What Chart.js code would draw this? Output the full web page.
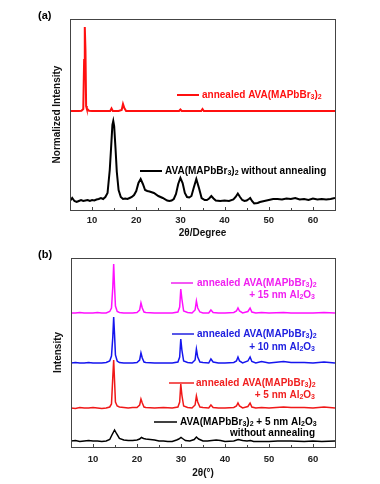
<!DOCTYPE html>
<html>
<head>
<meta charset="utf-8">
<script src="https://cdn.jsdelivr.net/npm/chart.js@4.4.1/dist/chart.umd.min.js"></script>
<style>
  html, body { margin: 0; padding: 0; background: #fff; }
  #wrap { position: relative; width: 380px; height: 484px; }
  .panel { position: absolute; left: 0; width: 380px; }
</style>
</head>
<body>
<div id="wrap">
  <div class="panel" style="top:0;height:240px"><canvas id="chartA" width="380" height="240"></canvas></div>
  <div class="panel" style="top:240px;height:244px"><canvas id="chartB" width="380" height="244"></canvas></div>
</div>
<script>
// ---- panel (a) data (2theta in degrees, intensity in arbitrary offset units) ----
const annealX = [5, 6, 7, 7.6, 8.0, 8.2, 8.35, 8.5, 8.65, 8.8,
  9.3, 10, 12, 14.1, 14.4, 14.7, 16, 16.7, 17.0, 17.3,
  17.7, 20, 25, 29.7, 30.0, 30.3, 33, 34.7, 35.0, 35.3,
  40, 45, 50, 55, 60, 65];
const annealY = [99, 99, 99, 99.3, 101, 150, 183, 160, 104, 101.5,
  99.3, 99, 99, 99, 101.5, 99, 99, 100, 106, 102,
  99, 99, 99, 99, 100.5, 99, 99, 99, 101, 99,
  99, 99, 99, 99, 99, 99];

const rawX = [5, 5.5, 6, 6.5, 7, 7.5, 8, 8.5, 9, 9.5,
  10, 10.5, 11, 11.5, 12, 12.5, 13, 13.5, 14, 14.3,
  14.6, 14.8, 15.0, 15.3, 15.6, 16, 16.5, 17, 17.5, 18,
  18.5, 19, 19.5, 20, 20.5, 21, 21.5, 22, 22.5, 23,
  24, 25, 26, 27, 27.5, 28, 28.5, 29, 29.5, 30,
  30.5, 31, 31.5, 32, 32.5, 33, 33.6, 34.2, 34.8, 35.5,
  36, 36.5, 37, 37.5, 38, 39, 40, 41, 42, 42.5,
  43, 43.5, 44, 44.5, 45, 45.5, 45.8, 46.2, 46.7, 47.5,
  48, 49, 50, 51, 52, 53, 54, 55, 56, 57,
  58, 59, 60, 61, 62, 63, 64, 65];
const rawY = [9, 12, 9, 8, 9, 10, 9, 9.5, 10, 9,
  10, 9.5, 10.5, 11, 12, 11, 13, 17, 40, 62,
  85, 89, 84, 62, 38, 20, 13, 11, 11.5, 11,
  12, 13, 15, 19, 27, 31, 26, 20, 19, 18.5,
  17, 14, 12, 9.5, 9, 9.5, 11, 16, 26, 32,
  27, 17, 13, 12.5, 14, 22, 31, 22, 12, 10,
  10, 11.5, 14, 11.5, 9.5, 9, 9.5, 9, 10.5, 13,
  16.5, 13, 10, 9, 9.5, 11, 12, 9, 6.5, 7,
  8, 9, 10, 11, 11, 10.5, 11.5, 11, 12, 10.5,
  11, 10, 11.5, 10.5, 11, 10.5, 11, 12];

// ---- panel (b) data ----
const xB = [5, 6, 7, 8, 9, 10, 11, 12, 13, 13.8,
  14.2, 14.5, 14.7, 14.9, 15.1, 15.5, 16, 17, 18, 19,
  20, 20.6, 20.9, 21.2, 21.6, 22, 24, 26, 28, 29.3,
  29.7, 29.95, 30.2, 30.6, 31.5, 32.5, 33.2, 33.5, 33.8, 34.3,
  35, 36.3, 36.8, 37.3, 38.5, 40, 42, 42.6, 42.95, 43.3,
  44, 45.2, 45.7, 46.1, 47, 48.3, 50, 53.3, 55, 58,
  60, 62.5, 65];
const al5Y = [39, 38.5, 39.5, 39, 39, 39.5, 39, 38.5, 39, 40,
  43, 70, 87, 66, 45, 41, 40, 39.5, 39, 39.5,
  39.5, 42, 48, 44, 40, 39.5, 39, 39.5, 39, 40,
  45, 63, 52, 41, 39.5, 39, 42, 51, 45, 40,
  39.5, 39, 42, 39.5, 39, 39, 39.5, 41, 44, 41,
  39, 40.5, 44, 40, 39, 39.5, 39, 40, 39.5, 39.5,
  39, 40, 39];
const al10Y = [84, 84.5, 84, 84, 84.5, 84, 84, 84, 84.5, 86,
  91, 110, 130, 112, 92, 86, 84.5, 84, 84, 84,
  84.5, 87, 94, 89, 85, 84.5, 84, 84, 84, 85,
  90, 108, 97, 86, 84.5, 84, 87, 98, 90, 85,
  84.5, 84, 88, 85, 84, 84, 84.5, 86, 90, 86,
  84, 86, 90, 85.5, 84, 85.5, 84, 85.5, 84.5, 84.5,
  84, 85, 84];
const al15Y = [134, 134, 134.5, 134, 134, 134, 134.5, 134, 134, 135.5,
  139, 160, 183, 160, 141, 135.5, 134.5, 134, 134, 134,
  134.5, 137, 144, 139, 135, 134.5, 134, 134, 134, 135,
  140, 158, 148, 136, 134.5, 134, 137, 146, 139, 135,
  134, 134, 137, 134.5, 134, 134, 134.5, 136, 139, 136,
  134, 135.5, 139, 135, 134, 134.5, 134, 134.5, 134, 134,
  134, 134.5, 134];

const xB0 = [5, 6, 7, 8, 9, 10, 11, 12, 13, 13.8,
  14.3, 14.9, 15.4, 16, 17, 18, 19, 20, 20.6, 21,
  21.5, 22, 23, 24, 25, 26, 27, 28, 29, 29.5,
  30, 30.5, 31, 32, 33, 33.5, 34, 35, 36, 37,
  38, 39, 40, 42, 43, 44, 45, 45.8, 46.5, 48,
  50, 52, 55, 58, 60, 62, 65];
const al5RawY = [6, 6.5, 5.5, 6, 6.5, 6, 6, 5.5, 6, 7.5,
  12, 17, 13, 8.5, 7, 6.5, 6.5, 7, 8, 9.5,
  8.5, 8, 7.5, 7, 6, 6, 5.5, 5.5, 7, 8,
  9.5, 8, 6.5, 6, 7.5, 10, 8, 6, 6, 6.5,
  7, 6.5, 5.5, 6, 7.5, 6.5, 6, 6.5, 5.5, 5.5,
  5.5, 6, 6, 5.5, 6, 5.5, 6];

const xTicks = [10, 20, 30, 40, 50, 60];
const xMinorTicks = [5, 15, 25, 35, 45, 55, 65];

const FONT = '"Liberation Sans", Arial, sans-serif';

function pts(xs, ys) {
  return xs.map((x, i) => ({ x: x, y: ys[i] }));
}

// draws text where "_c" means c is a subscript
function drawRich(ctx, str, x, y, align, size, color) {
  const parts = [];
  for (let i = 0; i < str.length; i++) {
    if (str[i] === '_') { parts.push([str[i + 1], true]); i++; }
    else if (parts.length && !parts[parts.length - 1][1]) parts[parts.length - 1][0] += str[i];
    else parts.push([str[i], false]);
  }
  const big = 'bold ' + size + 'px ' + FONT;
  const small = 'bold ' + Math.round(size * 0.72) + 'px ' + FONT;
  let w = 0;
  parts.forEach(p => { ctx.font = p[1] ? small : big; w += ctx.measureText(p[0]).width; });
  let cx = align === 'right' ? x - w : x;
  ctx.fillStyle = color;
  ctx.textBaseline = 'middle';
  ctx.textAlign = 'left';
  parts.forEach(p => {
    ctx.font = p[1] ? small : big;
    ctx.fillText(p[0], cx, p[1] ? y + 2.5 : y);
    cx += ctx.measureText(p[0]).width;
  });
}

const annotate = {
  id: 'annotate',
  afterDraw(chart, args, opts) {
    const ctx = chart.ctx, a = chart.chartArea, sx = chart.scales.x;
    ctx.save();
    ctx.strokeStyle = '#444';
    ctx.lineWidth = 1;
    ctx.strokeRect(Math.round(a.left) + 0.5, Math.round(a.top) + 0.5,
      Math.round(a.right - a.left), Math.round(a.bottom - a.top));
    // inward tick marks on the bottom axis
    ctx.beginPath();
    xTicks.forEach(v => {
      const px = Math.round(sx.getPixelForValue(v)) + 0.5;
      ctx.moveTo(px, a.bottom); ctx.lineTo(px, a.bottom - 3);
    });
    xMinorTicks.forEach(v => {
      const px = Math.round(sx.getPixelForValue(v)) + 0.5;
      ctx.moveTo(px, a.bottom); ctx.lineTo(px, a.bottom - 2);
    });
    ctx.stroke();
    ctx.font = 'bold 11px ' + FONT;
    ctx.fillStyle = '#000';
    ctx.textBaseline = 'middle';
    ctx.fillText(opts.tag, 38, opts.tagY);
    opts.notes.forEach(n => {
      if (n.line) {
        ctx.strokeStyle = n.color;
        ctx.lineWidth = opts.lw;
        ctx.beginPath();
        ctx.moveTo(n.line[0], n.y);
        ctx.lineTo(n.line[1], n.y);
        ctx.stroke();
      }
      drawRich(ctx, n.text, n.x, n.y, n.align || 'left', 10, n.textColor || n.color);
    });
    ctx.restore();
  }
};

function makePanel(id, datasets, yMax, yTitle, xTitle, pad, xAxisH, xTitlePad, tickPad, tag, notes, lw) {
  new Chart(document.getElementById(id), {
    type: 'line',
    data: { datasets: datasets },
    options: {
      responsive: false,
      animation: false,
      layout: { padding: pad },
      plugins: {
        legend: { display: false },
        tooltip: { enabled: false },
        annotate: { tag: tag.text, tagY: tag.y, notes: notes, lw: lw }
      },
      elements: { point: { radius: 0 }, line: { tension: 0 } },
      scales: {
        x: {
          type: 'linear', min: 5, max: 65,
          afterBuildTicks: s => { s.ticks = xTicks.map(v => ({ value: v })); },
          afterFit: s => { s.height = xAxisH; },
          grid: { drawOnChartArea: false, tickLength: 3, color: 'rgba(0,0,0,0)' },
          border: { display: false },
          ticks: { padding: tickPad, color: '#222', font: { family: FONT, size: 9.5, weight: 'bold' }, maxRotation: 0 },
          title: { display: true, text: xTitle, color: '#111', padding: { top: 0, bottom: xTitlePad },
            font: { family: FONT, size: 10, weight: 'bold' } }
        },
        y: {
          min: 0, max: yMax,
          afterFit: s => { s.width = 26; },
          grid: { display: false },
          border: { display: false },
          ticks: { display: false },
          title: { display: true, text: yTitle, color: '#111', padding: { top: 7, bottom: 0 },
            font: { family: FONT, size: 10, weight: 'bold' } }
        }
      }
    },
    plugins: [annotate]
  });
}

makePanel('chartA', [
  { data: pts(annealX, annealY), borderColor: '#ff1010', borderWidth: 2 },
  { data: pts(rawX, rawY), borderColor: '#000', borderWidth: 2 }
], 191, 'Normalized Intensity', '2\u03b8/Degree',
  { left: 44, right: 45, top: 19, bottom: 0 }, 30, 1, 2,
  { text: '(a)', y: 16 },
  [
    { text: 'annealed AVA(MAPbBr_3)_2', x: 202, y: 95, line: [177, 199], color: '#ff1010' },
    { text: 'AVA(MAPbBr_3)_2 without annealing', x: 165, y: 171, line: [140, 162], color: '#000' }
  ], 2);

makePanel('chartB', [
  { data: pts(xB, al15Y), borderColor: '#ff10ff', borderWidth: 1.5 },
  { data: pts(xB, al10Y), borderColor: '#1515ee', borderWidth: 1.5 },
  { data: pts(xB, al5Y), borderColor: '#f01818', borderWidth: 1.5 },
  { data: pts(xB0, al5RawY), borderColor: '#000', borderWidth: 1.5 }
], 189, 'Intensity', '2\u03b8(\u00b0)',
  { left: 45, right: 45, top: 18, bottom: 0 }, 37, 5, 4,
  { text: '(b)', y: 15 },
  [
    { text: 'annealed AVA(MAPbBr_3)_2', x: 197, y: 43, line: [171, 193], color: '#f020f0' },
    { text: '+ 15 nm Al_2O_3', x: 315, y: 55, align: 'right', color: '#f020f0' },
    { text: 'annealed AVA(MAPbBr_3)_2', x: 197, y: 94, line: [172, 194], color: '#2020e0' },
    { text: '+ 10 nm Al_2O_3', x: 315, y: 107, align: 'right', color: '#2020e0' },
    { text: 'annealed AVA(MAPbBr_3)_2', x: 196, y: 143, line: [169, 194], color: '#f02020' },
    { text: '+ 5 nm Al_2O_3', x: 315, y: 155, align: 'right', color: '#f02020' },
    { text: 'AVA(MAPbBr_3)_2 + 5 nm Al_2O_3', x: 180, y: 182, line: [154, 177], color: '#000' },
    { text: 'without annealing', x: 315, y: 193, align: 'right', color: '#000' }
  ], 1.5);
</script>
</body>
</html>
